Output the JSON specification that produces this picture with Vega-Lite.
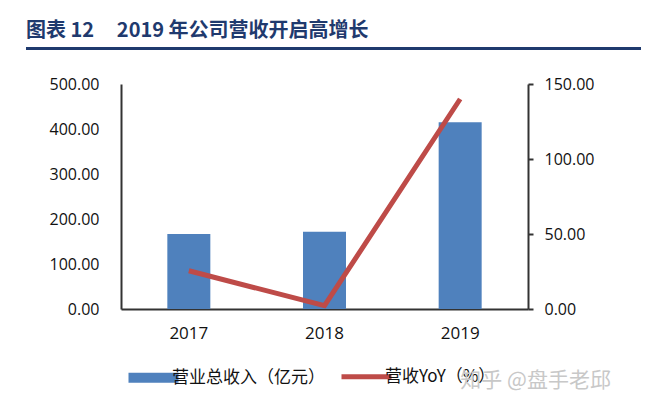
{
  "$schema": "https://vega.github.io/schema/vega-lite/v6.json",
  "padding": {"left": 25, "top": 20, "right": 0, "bottom": 0},
  "background": "white",
  "config": {
    "font": "Noto Sans CJK SC",
    "view": {"stroke": null}
  },
  "datasets": {
    "main": [
      {"year": "2017", "revenue": 166.7, "yoy": 25.5},
      {"year": "2018", "revenue": 171.8, "yoy": 2.2},
      {"year": "2019", "revenue": 414.8, "yoy": 140.0}
    ]
  },
  "vconcat": [
    {
      "title": {
        "text": "图表 12\u00a0\u00a0\u00a0\u00a0\u00a02019 年公司营收开启高增长",
        "anchor": "start",
        "frame": "group",
        "baseline": "alphabetic",
        "offset": 0,
        "dy": 10,
        "fontSize": 20,
        "fontWeight": "bold",
        "font": "Noto Sans CJK SC",
        "color": "#1F3A6E"
      },
      "width": 615,
      "height": 3,
      "view": {"fill": "#1F3A6E", "stroke": null},
      "data": {"values": [{}]},
      "mark": {"type": "rule", "strokeOpacity": 0},
      "encoding": {}
    },
    {
      "hconcat": [
        {
          "width": 3,
          "height": 10,
          "data": {"values": [{}]},
          "mark": {"type": "rule", "strokeOpacity": 0},
          "encoding": {}
        },
        {
          "width": 407,
          "height": 225,
          "data": {"name": "main"},
          "title": {
            "text": "知乎 @盘手老邱",
            "orient": "bottom",
            "anchor": "end",
            "fontSize": 21,
            "fontWeight": "normal",
            "color": "#c8c8c8",
            "offset": -17,
            "dx": 17
          },
          "layer": [
            {
              "transform": [{"calculate": "'营业总收入（亿元）'", "as": "s1"}],
              "mark": {"type": "bar", "size": 43},
              "encoding": {
                "x": {
                  "field": "year",
                  "type": "nominal",
                  "scale": {"paddingInner": 0, "paddingOuter": 0},
                  "axis": {
                    "title": null,
                    "labelAngle": 0,
                    "ticks": false,
                    "labelPadding": 16,
                    "labelFontSize": 17,
                    "labelFont": "Open Sans",
                    "labelColor": "#111",
                    "domainColor": "#333",
                    "domainWidth": 2
                  }
                },
                "y": {
                  "field": "revenue",
                  "type": "quantitative",
                  "scale": {"domain": [0, 500]},
                  "axis": {
                    "title": null,
                    "values": [0, 100, 200, 300, 400, 500],
                    "format": ".2f",
                    "grid": false,
                    "ticks": false,
                    "labelPadding": 22,
                    "labelFontSize": 16,
                    "labelFont": "Open Sans",
                    "labelColor": "#111",
                    "domainColor": "#333",
                    "domainWidth": 2
                  }
                },
                "color": {
                  "field": "s1",
                  "type": "nominal",
                  "scale": {
                    "domain": ["营业总收入（亿元）", "营收YoY（%）"],
                    "range": ["#4F81BD", "#BE4B48"]
                  },
                  "legend": {
                    "title": null,
                    "orient": "none",
                    "legendX": 24,
                    "legendY": 284,
                    "direction": "horizontal",
                    "labelFontSize": 17,
                    "labelFont": "Noto Sans CJK SC",
                    "labelColor": "#111",
                    "columnPadding": 6,
                    "labelOffset": 10,
                    "symbolSize": 2500,
                    "encode": {
                      "symbols": {
                        "update": {
                          "shape": {"signal": "datum.value === '营收YoY（%）' ? 'stroke' : 'M-1,-0.2H1V0.2H-1Z'"},
                          "fill": {"signal": "datum.value === '营收YoY（%）' ? 'transparent' : '#4F81BD'"},
                          "stroke": {"signal": "datum.value === '营收YoY（%）' ? '#BE4B48' : 'transparent'"},
                          "strokeWidth": {"signal": "datum.value === '营收YoY（%）' ? 5 : 0"},
                          "opacity": {"value": 1}
                        }
                      }
                    }
                  }
                }
              }
            },
            {
              "transform": [{"calculate": "'营收YoY（%）'", "as": "s1"}],
              "mark": {"type": "line", "strokeWidth": 5},
              "encoding": {
                "x": {"field": "year", "type": "nominal"},
                "y": {
                  "field": "yoy",
                  "type": "quantitative",
                  "scale": {"domain": [0, 150]},
                  "axis": {
                    "title": null,
                    "orient": "right",
                    "values": [0, 50, 100, 150],
                    "format": ".2f",
                    "grid": false,
                    "tickSize": 5,
                    "tickColor": "#333",
                    "tickWidth": 2,
                    "labelPadding": 11,
                    "labelFontSize": 16,
                    "labelFont": "Open Sans",
                    "labelColor": "#111",
                    "domainColor": "#333",
                    "domainWidth": 2
                  }
                },
                "color": {"field": "s1", "type": "nominal"}
              }
            }
          ],
          "resolve": {"scale": {"y": "independent"}}
        }
      ],
      "spacing": 20,
      "resolve": {"scale": {"color": "independent"}, "legend": {"color": "independent"}}
    }
  ],
  "spacing": 26,
  "align": "none"
}
